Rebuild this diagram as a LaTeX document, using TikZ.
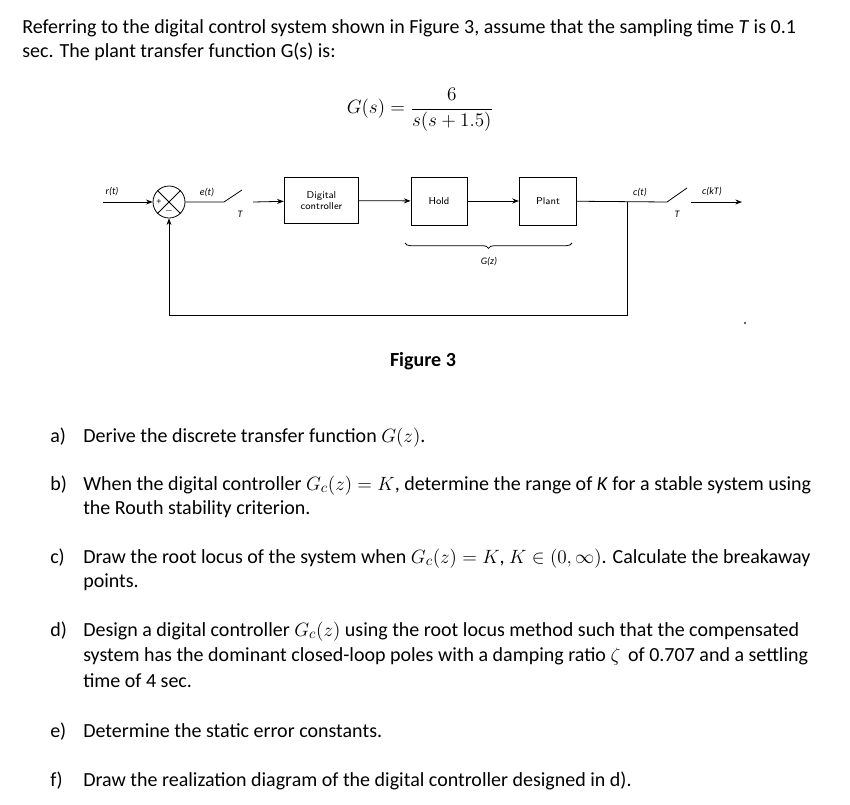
\documentclass[tikz,border=0pt]{standalone}
\usepackage{fontspec}
\setmainfont{Carlito}
\usepackage{amsmath}
\usetikzlibrary{decorations.pathreplacing,arrows.meta}
\begin{document}
\begin{tikzpicture}[x=0.75pt,y=-0.75pt,
  txt/.style={anchor=base west,inner sep=0,font=\fontsize{15}{17}\selectfont},
  blk/.style={draw,semithick,inner sep=0,font=\sffamily\fontsize{7.5}{8.5}\selectfont,align=center},
  lbl/.style={inner sep=0,font=\itshape\fontsize{7.5}{8}\selectfont},
  sig/.style={semithick,-{Stealth[length=5pt]}}]
\useasboundingbox (0,0) rectangle (850,804);
\node[txt] (t1) at (22,33) {Referring to the digital control system shown in Figure 3, assume that the sampling time \textit{T} is 0.1};
\node[txt] (t2) at (22,57) {sec. The plant transfer function G(s) is:};
\node[inner sep=0,font=\fontsize{15}{17}\selectfont] (gs) at (420,110) {$G(s)=\dfrac{6}{s(s+1.5)}$};
% diagram
\node[draw,semithick,circle,minimum size=24pt,inner sep=0] (sum) at (169,202) {};
\draw[semithick] (sum.north west)--(sum.south east) (sum.north east)--(sum.south west);
\node[font=\fontsize{7}{7}\selectfont,inner sep=0] (pl) at (159,202) {+};
\node[font=\fontsize{7}{7}\selectfont,inner sep=0] (mi) at (169,211) {$-$};
\node[blk,minimum width=56pt,minimum height=34pt] (dc) at (321.5,200.5) {Digital\\controller};
\node[blk,minimum width=42pt,minimum height=36pt] (hold) at (439,201) {Hold};
\node[blk,minimum width=43pt,minimum height=36pt] (plant) at (548,201) {Plant};
\coordinate (rin) at (103,202);
\coordinate (s1a) at (224,202);
\coordinate (s1b) at (242,190);
\coordinate (s1c) at (253,202);
\coordinate (jn) at (627,202);
\coordinate (s2a) at (667,202);
\coordinate (s2b) at (687,188);
\coordinate (s2c) at (691,202);
\coordinate (out) at (742,202);
\coordinate (fb1) at (627,315);
\coordinate (fb2) at (169,315);
\draw[sig] (rin) -- (sum);
\draw[semithick] (sum) -- (s1a) -- (s1b);
\draw[sig] (s1c) -- (dc);
\draw[sig] (dc) -- (hold);
\draw[sig] (hold) -- (plant);
\draw[semithick] (plant) -- (s2a) -- (s2b);
\draw[sig] (s2c) -- (out);
\draw[sig] (jn) -- (fb1) -- (fb2) -- (sum);
\node[lbl] (lr) at (112,192) {r(t)};
\node[lbl] (le) at (207,193) {e(t)};
\node[lbl] (lc) at (640,193) {c(t)};
\node[lbl] (lk) at (712,192) {c(kT)};
\node[lbl] (T1) at (240,214) {T};
\node[lbl] (T2) at (677,214) {T};
\draw[semithick,decorate,decoration={brace,mirror,amplitude=4pt}] (405,243) -- (572,243);
\node[lbl] (gz) at (489,262) {G(z)};
\fill[blue!70!red] (745,323) circle (1.2);
\node[inner sep=0,font=\bfseries\fontsize{15}{17}\selectfont] (fig) at (423,361) {Figure 3};
% questions
\node[txt] (qa) at (50,442) {a)};
\node[txt] (qat) at (83,442) {Derive the discrete transfer function $G(z)$.};
\node[txt] (qb) at (50,490) {b)};
\node[txt] (qbt) at (83,490) {When the digital controller $G_c(z)=K$, determine the range of \textit{K} for a stable system using};
\node[txt] (qbt2) at (83,514) {the Routh stability criterion.};
\node[txt] (qc) at (50,563) {c)};
\node[txt] (qct) at (83,563) {Draw the root locus of the system when $G_c(z)=K$, $K\in(0,\infty)$. Calculate the breakaway};
\node[txt] (qct2) at (83,587) {points.};
\node[txt] (qd) at (50,636) {d)};
\node[txt] (qdt) at (83,636) {Design a digital controller $G_c(z)$ using the root locus method such that the compensated};
\node[txt] (qdt2) at (83,661) {system has the dominant closed-loop poles with a damping ratio $\zeta$\, of 0.707 and a settling};
\node[txt] (qdt3) at (83,687) {time of 4 sec.};
\node[txt] (qe) at (50,737) {e)};
\node[txt] (qet) at (83,737) {Determine the static error constants.};
\node[txt] (qf) at (50,786) {f)};
\node[txt] (qft) at (83,786) {Draw the realization diagram of the digital controller designed in d).};
\end{tikzpicture}
\end{document}
